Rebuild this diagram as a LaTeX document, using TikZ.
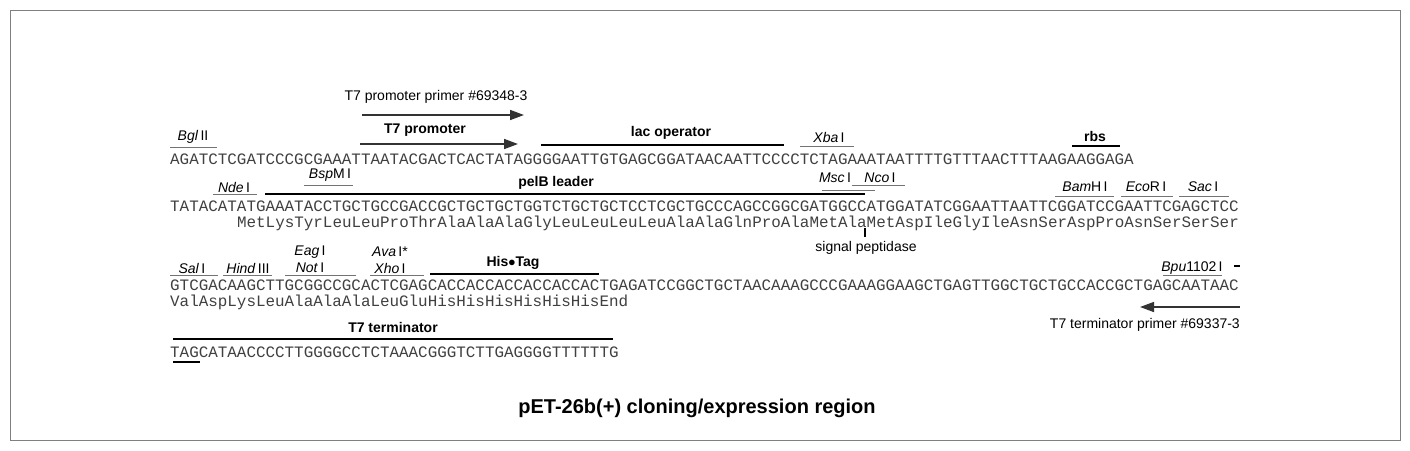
\documentclass[tikz,border=0pt]{standalone}
\usepackage{fontspec}
\setmainfont{Liberation Sans}
\newfontfamily\seqfont{Liberation Mono}
\usetikzlibrary{arrows.meta,positioning}
\tikzset{
  seq/.style={anchor=west, inner sep=0pt, font=\seqfont\fontsize{15.9}{16}\selectfont, text=black!75},
  site/.style={inner sep=0pt, font=\fontsize{14}{15}\selectfont},
  feat/.style={inner sep=0pt, font=\bfseries\fontsize{14}{15}\selectfont},
  siteline/.style={black!55, line width=0.8pt},
  featline/.style={black, line width=2.4pt},
  primer/.style={black!80, line width=1.6pt, -{Triangle[length=14pt,width=10pt]}}
}
\begin{document}
\begin{tikzpicture}[x=1pt,y=-1pt]
\useasboundingbox (0,0) rectangle (1410,450);
\draw[black!50, line width=0.8pt] (10,10) rectangle (1400,440);
% SEQUENCE ROWS
\node[seq] (row1) at (170,159) {AGATCTCGATCCCGCGAAATTAATACGACTCACTATAGGGGAATTGTGAGCGGATAACAATTCCCCTCTAGAAATAATTTTGTTTAACTTTAAGAAGGAGA};
\node[seq] (row2) at (170,206) {TATACATATGAAATACCTGCTGCCGACCGCTGCTGCTGGTCTGCTGCTCCTCGCTGCCCAGCCGGCGATGGCCATGGATATCGGAATTAATTCGGATCCGAATTCGAGCTCC};
\node[seq] (aa2) at (236.9,223) {MetLysTyrLeuLeuProThrAlaAlaAlaGlyLeuLeuLeuLeuAlaAlaGlnProAlaMetAlaMetAspIleGlyIleAsnSerAspProAsnSerSerSer};
\node[seq] (row4) at (170,285) {GTCGACAAGCTTGCGGCCGCACTCGAGCACCACCACCACCACCACTGAGATCCGGCTGCTAACAAAGCCCGAAAGGAAGCTGAGTTGGCTGCTGCCACCGCTGAGCAATAAC};
\node[seq] (aa4) at (170,302) {ValAspLysLeuAlaAlaAlaLeuGluHisHisHisHisHisHisEnd};
\node[seq] (row5) at (170,352) {TAGCATAACCCCTTGGGGCCTCTAAACGGGTCTTGAGGGGTTTTTTG};
% ROW 1 FEATURES
\node[site] (primerT7) at (436,97) {T7 promoter primer \#69348-3};
\coordinate (pT7a) at (362,115); \coordinate (pT7b) at (524,115);
\draw[primer] (pT7a) -- (pT7b);
\node[feat] (promT7) at (425,130) {T7 promoter};
\coordinate (prA) at (360,144); \coordinate (prB) at (518,144);
\draw[primer] (prA) -- (prB);
\node[feat] (lacop) at (671,133) {lac operator};
\coordinate (lacA) at (541,145); \coordinate (lacB) at (784,145);
\draw[featline] (lacA) -- (lacB);
\node[site] (bgl) at (193,137) {\textit{Bgl}\,II};
\coordinate (bglA) at (170,147); \coordinate (bglB) at (217,147);
\draw[siteline] (bglA) -- (bglB);
\node[site] (xba) at (829,137) {\textit{Xba}\,I};
\coordinate (xbaA) at (800,146); \coordinate (xbaB) at (854,146);
\draw[siteline] (xbaA) -- (xbaB);
\node[feat] (rbs) at (1095,136) {rbs};
\coordinate (rbsA) at (1072,146); \coordinate (rbsB) at (1120,146);
\draw[featline] (rbsA) -- (rbsB);
% ROW 2 FEATURES
\node[site] (nde) at (234,187) {\textit{Nde}\,I};
\coordinate (ndeA) at (213,194); \coordinate (ndeB) at (257,194);
\draw[siteline] (ndeA) -- (ndeB);
\node[site] (bspm) at (330,175) {\textit{Bsp}M\,I};
\coordinate (bspA) at (304,185); \coordinate (bspB) at (353,185);
\draw[siteline] (bspA) -- (bspB);
\node[feat] (pelb) at (556,183) {pelB leader};
\coordinate (pelA) at (265,194); \coordinate (pelB) at (865,194);
\draw[featline] (pelA) -- (pelB);
\node[site] (msc) at (835,178) {\textit{Msc}\,I};
\coordinate (mscA) at (822,190); \coordinate (mscB) at (875,190);
\draw[siteline] (mscA) -- (mscB);
\node[site] (nco) at (880,178) {\textit{Nco}\,I};
\coordinate (ncoA) at (852,185); \coordinate (ncoB) at (905,185);
\draw[siteline] (ncoA) -- (ncoB);
\node[site] (bamh) at (1085,187) {\textit{Bam}H\,I};
\coordinate (bamA) at (1055,196); \coordinate (bamB) at (1114,196);
\draw[siteline] (bamA) -- (bamB);
\node[site] (ecor) at (1146,187) {\textit{Eco}R\,I};
\coordinate (ecoA) at (1121,196); \coordinate (ecoB) at (1173,196);
\draw[siteline] (ecoA) -- (ecoB);
\node[site] (sac) at (1203,187) {\textit{Sac}\,I};
\coordinate (sacA) at (1179,196); \coordinate (sacB) at (1229,196);
\draw[siteline] (sacA) -- (sacB);
\coordinate (sigA) at (865,228); \coordinate (sigB) at (865,237);
\draw[black, line width=1.6pt] (sigA) -- (sigB);
\node[site] (sigpep) at (866,248) {signal peptidase};
% ROW 4 FEATURES
\node[site] (sal) at (192,268) {\textit{Sal}\,I};
\coordinate (salA) at (170,275); \coordinate (salB) at (218,275);
\draw[siteline] (salA) -- (salB);
\node[site] (hind) at (248,268) {\textit{Hind}\,III};
\coordinate (hindA) at (223,275); \coordinate (hindB) at (272,275);
\draw[siteline] (hindA) -- (hindB);
\node[site] (eag) at (310,252) {\textit{Eag}\,I};
\node[site] (notI) at (310,268) {\textit{Not}\,I};
\coordinate (notA) at (285,275); \coordinate (notB) at (356,275);
\draw[siteline] (notA) -- (notB);
\node[site] (ava) at (390,252) {\textit{Ava}\,I*};
\node[site] (xho) at (390,268) {\textit{Xho}\,I};
\coordinate (xhoA) at (370,275); \coordinate (xhoB) at (424,275);
\draw[siteline] (xhoA) -- (xhoB);
\node[feat] (histag) at (513,263) {His$\bullet$Tag};
\coordinate (hisA) at (430,274); \coordinate (hisB) at (599,274);
\draw[featline] (hisA) -- (hisB);
\node[site] (bpu) at (1192,268) {\textit{Bpu}1102\,I};
\coordinate (bpuA) at (1163,275); \coordinate (bpuB) at (1222,275);
\draw[siteline] (bpuA) -- (bpuB);
\coordinate (tickA) at (1234,266); \coordinate (tickB) at (1240,266);
\draw[black, line width=1.6pt] (tickA) -- (tickB);
\coordinate (tpA) at (1240,307); \coordinate (tpB) at (1140,307);
\draw[primer] (tpA) -- (tpB);
\node[site, anchor=east] (primerterm) at (1240,325) {T7 terminator primer \#69337-3};
% ROW 5 FEATURES
\node[feat] (termT7) at (393,327) {T7 terminator};
\coordinate (termA) at (173,339); \coordinate (termB) at (613,339);
\draw[featline] (termA) -- (termB);
\coordinate (stopA) at (173,362); \coordinate (stopB) at (200,362);
\draw[black, line width=1.6pt] (stopA) -- (stopB);
% TITLE
\node[inner sep=0pt, font=\bfseries\fontsize{20}{22}\selectfont] (title) at (697,408) {pET-26b(+) cloning/expression region};
\end{tikzpicture}
\end{document}
